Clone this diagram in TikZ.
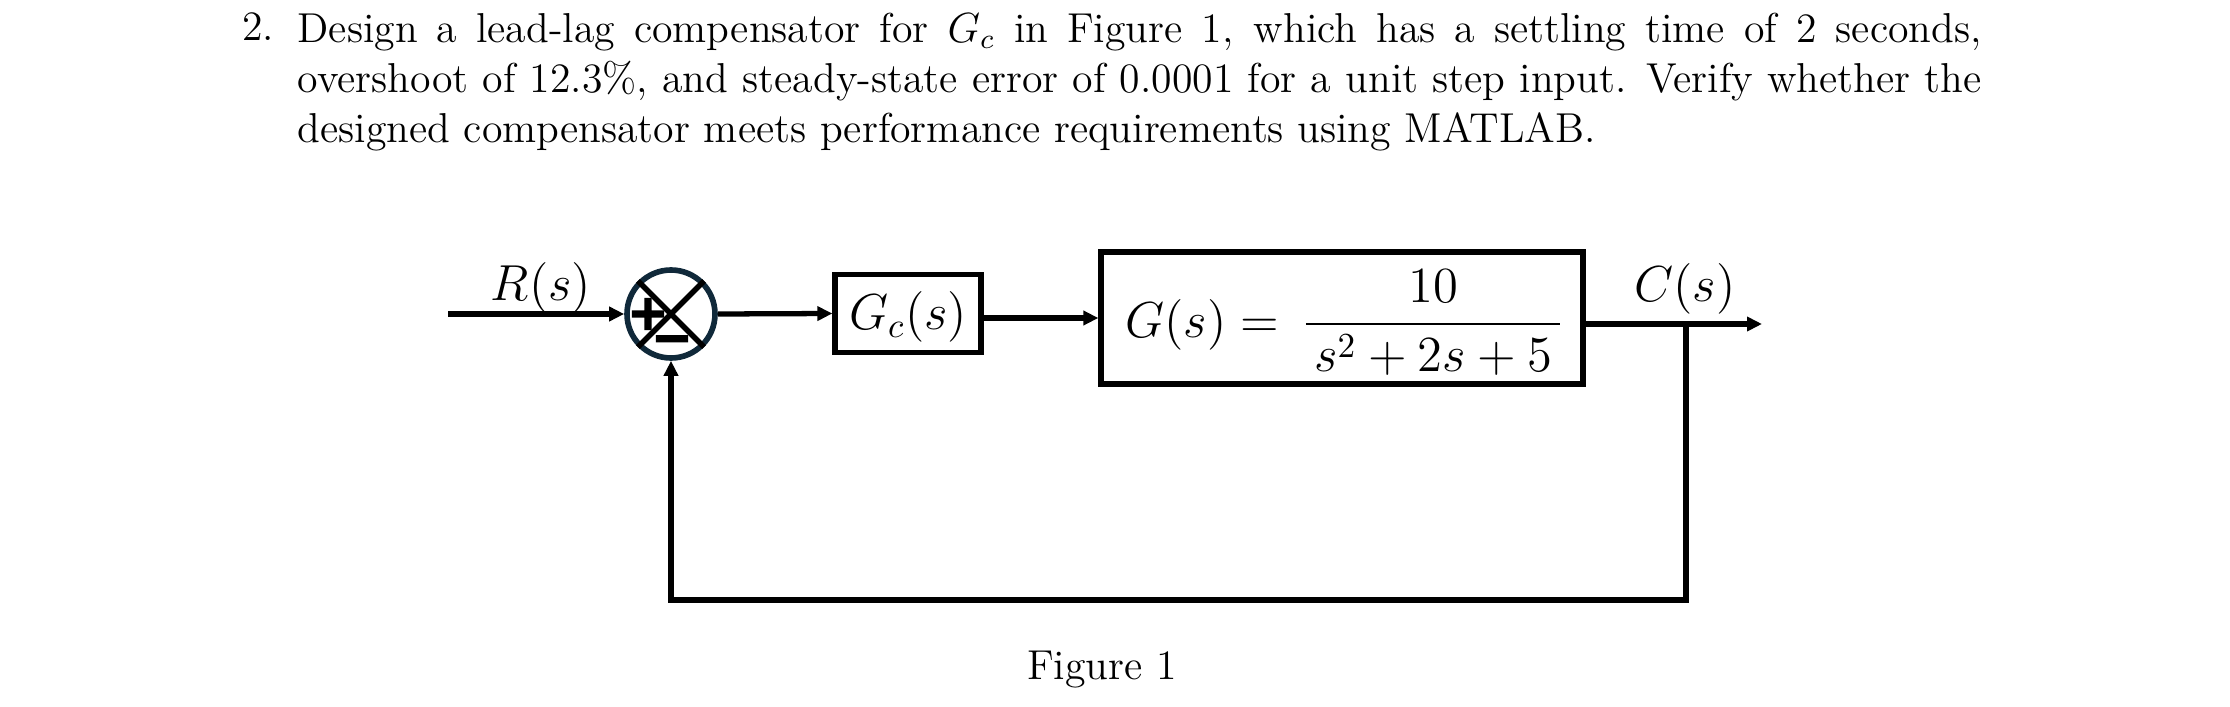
\documentclass[tikz,border=0pt]{standalone}
\usepackage{amsmath,amssymb}
\usepackage{fontspec}
\usepackage{xcolor}
\usetikzlibrary{positioning, arrows.meta}
\newfontfamily\signfont[FakeBold=3]{DejaVu Sans Bold}
\definecolor{sumring}{HTML}{10293A}
\newcommand{\bodysize}{\fontsize{11.89}{14.32}\selectfont}
\newcommand{\blocksize}{\fontsize{14}{17}\selectfont}
\tikzset{
    bodytext/.style={inner sep=0pt, font=\bodysize},
    blocktext/.style={inner sep=0pt, font=\blocksize},
    block/.style={draw, line width=1.5pt, inner sep=0pt, font=\blocksize},
    sumnode/.style={circle, draw=sumring, line width=1.6pt, inner sep=0pt},
    signtext/.style={inner sep=0pt, font=\signfont\fontsize{14}{14}\selectfont},
    signal/.style={-{Triangle[length=1.5mm,width=1.4mm]}, line width=1.5pt}
}

\begin{document}
\begin{tikzpicture}[scale=1]
    \useasboundingbox (0,0) rectangle (22.3,-7.07);
    \node[bodytext, anchor=base east] (num) at (2.75,-0.41) {2.};
    \node[bodytext, anchor=north west, text width=16.84cm, align=justify] (task) at (2.97,-0.12)
        {Design a lead-lag compensator for $G_c$ in Figure 1, which has a settling time of 2 seconds, overshoot of 12.3\%, and steady-state error of 0.0001 for a unit step input. Verify whether the designed compensator meets performance requirements using MATLAB.};

    \node[sumnode, minimum size=8.8mm] (sum) at (6.71,-3.14) {};
    \draw[line width=1.6pt] (sum.45)--(sum.225);
    \draw[line width=1.6pt] (sum.135)--(sum.315);
    \node[signtext] (plus) at (6.48,-3.14) {+};
    \node[signtext] (minus) at (6.72,-3.45) {−};

    \node[block, minimum width=14.6mm, minimum height=7.8mm, text height=4.4mm, text depth=1.2mm] (gc) at (9.08,-3.135) {$G_c(s)$};
    \node[block, minimum width=48.2mm, minimum height=13.2mm] (g) at (13.42,-3.18) {};
    \node[blocktext] (gtext) at (13.45,-3.23) {$G(s)=\,\dfrac{10}{\,s^2+2s+5\,}$};

    \node[blocktext] (rs) at (5.41,-2.88) {$R(s)$};
    \node[blocktext] (cs) at (16.85,-2.89) {$C(s)$};
    \node[bodytext] (caption) at (11.02,-6.70) {Figure 1};

    \coordinate (start) at (4.48,-3.14);
    \coordinate (out) at (17.62,-3.24);
    \coordinate (branch) at (16.86,-3.24);
    \coordinate (low) at (16.86,-6.00);

    \draw[signal] (start)--(sum.west);%入力
    \draw[signal] (sum.east)--(gc.west);
    \draw[signal] (gc.east |- g.west)--(g.west);
    \draw[signal] (out -| g.east)--(out);%出力
    \draw[signal] (branch)--(low)--(sum |- low)--(sum.south);%フィードバック
\end{tikzpicture}
\end{document}
